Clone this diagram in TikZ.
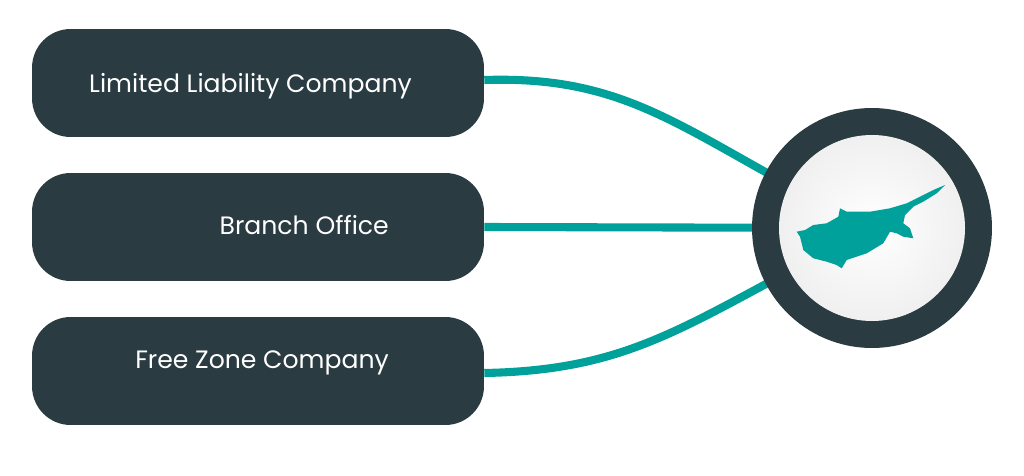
\documentclass[tikz,border=0pt]{standalone}
\usepackage{fontspec}
\setmainfont{Poppins}
\usetikzlibrary{positioning}
\definecolor{slate}{HTML}{2A3B42}
\definecolor{teal}{HTML}{00A19A}
\tikzset{
    entity/.style={%
        fill=slate, rounded corners=22,
        minimum width=9.04cm, minimum height=2.16cm,
        inner sep=0pt
        },
    label/.style={text=white, font=\fontsize{14.3}{17}\selectfont},
    link/.style={draw=teal, line width=4.6pt}
}
\begin{document}
\begin{tikzpicture}[x=0.02cm, y=-0.02cm]
\useasboundingbox (0,0) rectangle (1024,476);

\node[entity] (llc) at (258,83) {};
\node[entity] (branch) at (258,227) {};
\node[entity] (fz) at (258,371) {};

\node[label, anchor=east] at (418,86) {Limited Liability Company};
\node[label, anchor=east] at (395,225) {Branch Office};
\node[label, anchor=east] at (395,363) {Free Zone Company};

% links to the island
\coordinate (hub) at (872,228);
\draw[link] (llc.east) ++(0,-3) .. controls (640,75) and (690,140) .. (hub);
\draw[link] (branch.east) -- (hub);
\draw[link] (fz.east) ++(0,2) .. controls (640,370) and (690,320) .. (hub);

\node[circle, fill=slate, minimum size=4.8cm] (ring) at (hub) {};
\shade[inner color=white, outer color=gray!12] (hub) circle (93);

\fill[teal] (796.7,231.7) -- (805,230) -- (813.3,225) -- (826.7,223.3) -- (838.3,216.7)
  -- (840,208.3) -- (846.7,211.7) -- (870,211.7) -- (890,208.3) -- (906.7,203.3)
  -- (920,196.7) -- (933.3,190) -- (945,185) -- (936.7,193.3) -- (923.3,201.7)
  -- (913.3,206.7) -- (905,215) -- (903.3,223.3) -- (910,228.3) -- (913.3,238.3)
  -- (903.3,236.7) -- (896.7,233.3) -- (890,231.7) -- (883.3,243.3) -- (866.7,253.3)
  -- (846.7,260) -- (841.7,268.3) -- (836.7,265) -- (826.7,261.7) -- (813.3,258.3)
  -- (803.3,250) -- (800,236.7) -- cycle;
\end{tikzpicture}
\end{document}
